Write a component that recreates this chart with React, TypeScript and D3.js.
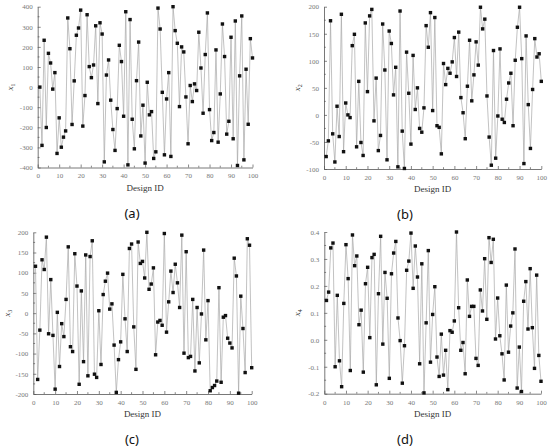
import React, { useEffect, useRef } from 'react';
import * as d3 from 'd3';

// values per design (Design ID 1..100)
const x1Values: number[] = [
  0, -290, 233, -201, 168, 120, -10, 72, -330, -153,
  -299, -249, -218, 344, 191, -186, 31, 258, 294, 383,
  -194, -42, 360, 102, 47, 110, 305, -82, 320, 264,
  -372, 60, 135, -65, -211, -315, -107, 208, 127, -145,
  375, -387, 336, -160, -307, 32, 224, -243, -90, -378,
  24, -138, -122, -355, -322, 393, 289, -26, -337, -59,
  72, -345, 400, 281, 218, -97, 200, 175, -49, -282,
  8, -72, 16, -17, 273, 95, -130, 162, 369, -112,
  -266, -226, 185, -274, -34, 314, 152, -234, -170, 248,
  -257, 329, -390, 56, 354, -362, 89, -185, 241, 145,
];

const x2Values: number[] = [
  -77, -48, 174, -35, -87, 16, -40, 186, -68, 22,
  0, -5, 128, 149, -59, 62, -51, -75, 170, 43,
  183, 195, -11, 68, -66, -38, 168, 83, -83, 155,
  132, 37, 88, -96, 192, -30, -99, 116, 40, -54,
  110, 10, 50, -25, -32, 13, 165, 125, 189, 8,
  180, -20, -23, -72, 95, 56, 86, 77, 98, 143,
  71, 153, 32, 4, -44, 53, 138, 26, 74, 135,
  92, 199, 159, 177, 35, -41, -93, 119, -80, -2,
  122, -8, -14, 29, 59, 77, -20, 101, 162, 199,
  104, -90, 146, 19, -62, 47, 141, 107, 113, 62,
];

const x3Values: number[] = [
  116, -164, -42, 132, 108, 188, -51, 83, -55, -188,
  2, -132, -26, -58, 34, 164, -83, -95, 147, 67,
  -176, 55, -120, 144, -155, 140, 179, -151, -159, 6,
  -127, 46, 79, 99, 10, 23, -79, -196, -115, -71,
  96, -14, -95, 160, 171, -34, -139, 176, 123, 128,
  87, 200, 59, 72, 112, -103, -22, -18, -30, 197,
  -47, 28, 104, 51, 121, 75, 14, 193, -99, 152,
  -110, -107, 34, -143, 14, -123, -2, 156, -66, 31,
  -192, -184, -179, -168, 63, -171, -10, -6, -62, -74,
  -86, 136, 92, -198, 42, -38, -147, 184, 168, -135,
];

const x4Values: number[] = [
  0.146, 0.177, 0.341, 0.359, -0.1, 0.165, -0.078, -0.174, 0.135, 0.353,
  0.227, -0.114, 0.389, 0.275, 0.311, 0.056, 0.11, -0.12, 0.208, 0.269,
  0.008, 0.305, 0.317, -0.167, 0.171, 0.384, -0.016, 0.25, 0.154, -0.143,
  0.245, 0.322, 0.365, 0.081, -0.003, -0.161, -0.022, 0.258, 0.292, 0.396,
  0.191, 0.348, 0.233, -0.089, 0.282, -0.197, 0.063, 0.331, -0.083, 0.094,
  0.197, -0.064, -0.136, 0.021, -0.131, -0.039, -0.185, 0.034, 0.028, 0.07,
  0.4, 0.119, -0.039, -0.01, -0.126, 0.222, 0.087, 0.124, 0.124, -0.069,
  -0.095, 0.185, 0.107, 0.301, 0.076, 0.379, 0.287, 0.373, 0.003, 0.155,
  0.015, -0.052, -0.149, 0.203, -0.046, 0.051, 0.1, 0.337, -0.179, -0.027,
  -0.192, 0.143, 0.216, 0.04, 0.264, 0.045, -0.106, 0.24, -0.058, -0.154,
];

const designTicks = [0, 10, 20, 30, 40, 50, 60, 70, 80, 90, 100];
const x1Ticks = [-400, -300, -200, -100, 0, 100, 200, 300, 400];
const x2Ticks = [-100, -50, 0, 50, 100, 150, 200];
const x3Ticks = [-200, -150, -100, -50, 0, 50, 100, 150, 200];
const x4Ticks = [-0.2, -0.1, 0, 0.1, 0.2, 0.3, 0.4];
const panelTags = ['(a)', '(b)', '(c)', '(d)'];
const varSubs = ['1', '2', '3', '4'];

const App: React.FC = () => {
  const chartRef = useRef<SVGSVGElement | null>(null);

  useEffect(() => {
    if (!chartRef.current) return;
    document.body.style.margin = '0';

    const svg = d3.select(chartRef.current);
    svg.selectAll('*').remove();

    const panels = [
      { values: x1Values, ticks: x1Ticks, box: [37.7, 252.5, 6.7, 167.5], tagX: 132, labelX: 10, fmt: (d: number) => `${d}` },
      { values: x2Values, ticks: x2Ticks, box: [324, 541.3, 6.7, 169], tagX: 405, labelX: 297, fmt: (d: number) => `${d}` },
      { values: x3Values, ticks: x3Ticks, box: [33.3, 251.7, 232.3, 394], tagX: 132, labelX: 7, fmt: (d: number) => `${d}` },
      { values: x4Values, ticks: x4Ticks, box: [324.3, 541, 232, 393.7], tagX: 405, labelX: 297, fmt: (d: number) => d.toFixed(1) },
    ];

    panels.forEach((p, i) => {
      const [left, right, top, bottom] = p.box;
      const g = svg.append('g');

      const x = d3.scaleLinear().domain([0, 100]).range([left, right]);
      const yDomain = d3.extent(p.ticks) as [number, number];
      const y = d3.scaleLinear().domain(yDomain).range([bottom, top]);

      // X-axis with inward ticks
      const xAxis = g.append('g')
        .attr('transform', `translate(0,${bottom})`)
        .call(d3.axisBottom(x).tickValues(designTicks).tickSizeInner(-3).tickSizeOuter(0).tickPadding(6));
      xAxis.append('g').selectAll('line')
        .data(designTicks.slice(0, -1).map((d) => d + 5))
        .enter()
        .append('line')
        .attr('x1', (d) => x(d)).attr('x2', (d) => x(d))
        .attr('y1', 0).attr('y2', -1.8);

      // Y-axis
      const step = p.ticks[1] - p.ticks[0];
      const yAxis = g.append('g')
        .attr('transform', `translate(${left},0)`)
        .call(d3.axisLeft(y).tickValues(p.ticks).tickFormat((d) => p.fmt(d as number)).tickSizeInner(-3).tickSizeOuter(0).tickPadding(5));
      yAxis.append('g').selectAll('line')
        .data(p.ticks.slice(0, -1).map((d) => d + step / 2))
        .enter()
        .append('line')
        .attr('x1', 0).attr('x2', 1.8)
        .attr('y1', (d) => y(d)).attr('y2', (d) => y(d));

      [xAxis, yAxis].forEach((ax) => {
        ax.select('.domain').attr('stroke', '#555').attr('stroke-width', 0.8);
        ax.selectAll('line').attr('stroke', '#555').attr('stroke-width', 0.7);
        ax.selectAll('text')
          .attr('fill', '#777')
          .attr('font-family', 'Liberation Serif, serif')
          .attr('font-size', 7);
      });

      // Line
      const line = d3.line<number>()
        .x((_, j) => x(j + 1))
        .y((d) => y(d));
      g.append('path')
        .datum(p.values)
        .attr('d', line)
        .attr('fill', 'none')
        .attr('stroke', '#a8a8a8')
        .attr('stroke-width', 0.7);

      // Markers
      const s = 3.4;
      g.selectAll('.marker')
        .data(p.values)
        .enter()
        .append('rect')
        .attr('x', (_, j) => x(j + 1) - s / 2)
        .attr('y', (d) => y(d) - s / 2)
        .attr('width', s)
        .attr('height', s)
        .attr('fill', '#111');

      // Axis titles
      g.append('text')
        .attr('x', (left + right) / 2)
        .attr('y', bottom + 23)
        .attr('text-anchor', 'middle')
        .attr('font-family', 'Liberation Serif, serif')
        .attr('font-size', 9)
        .attr('fill', '#333')
        .text('Design ID');

      const yl = g.append('text')
        .attr('transform', `translate(${p.labelX + 3},${(top + bottom) / 2}) rotate(-90)`)
        .attr('text-anchor', 'middle')
        .attr('font-family', 'Liberation Serif, serif')
        .attr('font-size', 9)
        .attr('fill', '#333');
      yl.append('tspan').attr('font-style', 'italic').text('x');
      yl.append('tspan').attr('font-size', 6).attr('dy', 2).text(varSubs[i]);

      // Panel tag
      g.append('text')
        .attr('x', p.tagX)
        .attr('y', bottom + 50)
        .attr('text-anchor', 'middle')
        .attr('font-family', 'Noto Sans, sans-serif')
        .attr('font-size', 13)
        .attr('fill', '#111')
        .text(panelTags[i]);
    });
  }, []);

  return <svg ref={chartRef} width={550} height={448} style={{ display: 'block', background: '#fff' }}></svg>;
};

export default App;
